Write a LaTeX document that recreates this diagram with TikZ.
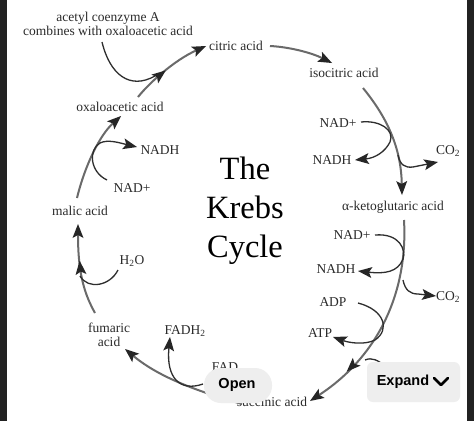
\documentclass[tikz,border=0pt]{standalone}
\usepackage{fontspec}
\setmainfont{Liberation Serif}
\newfontfamily\uifont{Liberation Sans}
\usetikzlibrary{arrows.meta,decorations.markings}
\definecolor{cyc}{HTML}{6A6A6A}
\definecolor{brn}{HTML}{2E2E2E}
\definecolor{tip}{HTML}{262626}
\definecolor{txt}{HTML}{2A2A2A}
\definecolor{btn}{HTML}{EEEEEE}
\definecolor{frame}{HTML}{222222}
\tikzset{
  lbl/.style={font=\fontsize{13.5}{14}\selectfont, text=txt, inner sep=0pt},
  title/.style={font=\fontsize{32.5}{39}\selectfont, text=black, align=center, inner sep=0pt},
  cycline/.style={draw=cyc, line width=2pt},
  branch/.style={draw=brn, line width=1.3pt},
  endtip/.style={-{Stealth[length=14pt,width=11pt,inset=3pt,color=tip,line width=0pt]}},
  midtip/.style={postaction={decorate},decoration={markings, mark=at position #1 with {\arrow{Stealth[length=14pt,width=11pt,inset=3pt,color=tip,line width=0pt]}}}},
  uibox/.style={fill=btn, draw=none},
  uitext/.style={font=\uifont\bfseries\fontsize{14.5}{16}\selectfont, text=black, inner sep=0pt}
}
\begin{document}
\begin{tikzpicture}[x=1pt,y=-1pt]
\useasboundingbox (0,0) rectangle (474,421);
\fill[white] (0,0) rectangle (474,421);
\fill[frame] (0,0) rectangle (7,421);
\fill[frame] (467,0) rectangle (474,421);

% labels
\node[lbl, align=center] (acetyl) at (108,24) {acetyl coenzyme A\\combines with oxaloacetic acid};
\node[lbl] (citric) at (236,46) {citric acid};
\node[lbl] (isocitric) at (344,73) {isocitric acid};
\node[lbl] (nadp1) at (338,123) {NAD+};
\node[lbl] (nadh1) at (332,160) {NADH};
\node[lbl] (co2a) at (448,151) {CO\textsubscript{2}};
\node[lbl] (akg) at (393,207) {α-ketoglutaric acid};
\node[lbl] (nadp2) at (352,235) {NAD+};
\node[lbl] (nadh2) at (336,269) {NADH};
\node[lbl] (co2b) at (448,297) {CO\textsubscript{2}};
\node[lbl] (adp) at (333,302) {ADP};
\node[lbl] (atp) at (320,333) {ATP};
\node[lbl] (succinic) at (272,402) {succinic acid};
\node[lbl] (fad) at (225,367) {FAD};
\node[lbl] (fadh2) at (185,331) {FADH\textsubscript{2}};
\node[lbl, align=center] (fumaric) at (109,335) {fumaric\\acid};
\node[lbl] (h2o) at (132,261) {H\textsubscript{2}O};
\node[lbl] (malic) at (80,211) {malic acid};
\node[lbl] (nadp3) at (132,188) {NAD+};
\node[lbl] (nadh3) at (160,150) {NADH};
\node[lbl] (oxalo) at (120,107) {oxaloacetic acid};
\node[title] (krebs) at (245,211) {The\\Krebs\\Cycle};

% coordinates for connector ends
\coordinate (c1a) at (138,97);  \coordinate (c1b) at (206,46);
\coordinate (ac1) at (102,42);  \coordinate (ac2) at (155,76);
\coordinate (c2a) at (270,46);  \coordinate (c2b) at (332,63);
\coordinate (c3a) at (363,88);  \coordinate (c3b) at (402,195);
\coordinate (n1a) at (361,122); \coordinate (n1b) at (355,160);
\coordinate (o1a) at (398,155); \coordinate (o1b) at (438,162);
\coordinate (c4a) at (404,220); \coordinate (c4b) at (310,401);
\coordinate (n2a) at (375,235); \coordinate (n2b) at (358,271);
\coordinate (o2a) at (403,280); \coordinate (o2b) at (436,296);
\coordinate (adpa) at (358,303); \coordinate (atpb) at (333,337);
\coordinate (gxa) at (365,360); \coordinate (gxb) at (386,367);
\coordinate (c5a) at (242,404); \coordinate (c5b) at (125,349);
\coordinate (fa) at (203,384);  \coordinate (fb) at (170,337);
\coordinate (c6a) at (95,313);  \coordinate (c6b) at (78,224);
\coordinate (ha) at (118,270);  \coordinate (hb) at (80,276);
\coordinate (c7a) at (77,198);  \coordinate (c7b) at (121,116);
\coordinate (n3a) at (107,180); \coordinate (n3b) at (137,147);

% main cycle
\path[cycline, endtip, midtip=0.45] (c1a) .. controls (150,82) and (175,60) .. (c1b);
\path[cycline, endtip] (c2a) .. controls (290,47) and (312,53) .. (c2b);
\path[cycline, endtip] (c3a) .. controls (385,115) and (401,145) .. (c3b);
\path[cycline, endtip, midtip=0.78] (c4a) .. controls (408,290) and (380,355) .. (c4b);
\path[cycline, endtip] (c5a) .. controls (200,392) and (160,378) .. (c5b);
\path[cycline, endtip, midtip=0.6] (c6a) .. controls (85,295) and (78,275) .. (c6b);
\path[cycline, endtip] (c7a) .. controls (85,165) and (100,135) .. (c7b);

% branches
\path[branch] (ac1) .. controls (110,75) and (130,90) .. (ac2);
\path[branch, endtip] (n1a) .. controls (380,120) and (395,130) .. (390,142) .. controls (385,152) and (375,158) .. (n1b);
\path[branch, endtip] (o1a) .. controls (400,165) and (405,168) .. (413,167) -- (o1b);
\path[branch, endtip] (n2a) .. controls (400,233) and (406,250) .. (403,259) .. controls (398,272) and (385,274) .. (n2b);
\path[branch, endtip] (o2a) .. controls (405,290) and (410,294) .. (418,294) -- (o2b);
\path[branch, endtip] (adpa) .. controls (385,310) and (390,330) .. (375,340) .. controls (365,345) and (350,343) .. (atpb);
\path[branch] (gxa) .. controls (372,357) and (378,360) .. (gxb);
\path[branch, endtip] (fa) .. controls (180,392) and (166,378) .. (fb);
\path[branch] (ha) .. controls (110,286) and (88,290) .. (hb);
\path[branch, endtip] (n3a) .. controls (90,172) and (88,150) .. (100,143) .. controls (108,139) and (120,143) .. (n3b);

% overlay buttons
\path[uibox, rounded corners=17pt] (204,368) rectangle (272,403);
\node[uitext] (open) at (237,385) {Open};
\path[uibox, rounded corners=6pt] (367,362) rectangle (460,402);
\node[uitext] (expand) at (403,382) {Expand};
\coordinate (chA) at (434,378); \coordinate (chB) at (441,385); \coordinate (chC) at (448,378);
\draw[black, line width=2.8pt, line cap=round, line join=round] (chA) -- (chB) -- (chC);
\end{tikzpicture}
\end{document}
